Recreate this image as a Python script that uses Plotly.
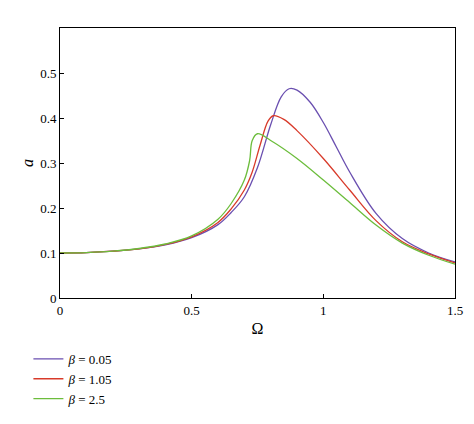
import plotly.graph_objects as go

x_common = [0, 0.1, 0.2, 0.3, 0.4, 0.5, 0.6]
low_p = [0.1, 0.101, 0.104, 0.109, 0.118, 0.134, 0.163]
low_r = [0.1, 0.101, 0.104, 0.109, 0.119, 0.136, 0.168]
low_g = [0.1, 0.101, 0.104, 0.110, 0.120, 0.138, 0.175]

px = x_common + [0.65, 0.7, 0.75, 0.8, 0.84, 0.87, 0.9, 0.95, 1.0, 1.05, 1.1, 1.2, 1.3, 1.4, 1.5]
py = low_p + [0.19, 0.225, 0.29, 0.385, 0.447, 0.465, 0.462, 0.435, 0.39, 0.335, 0.28, 0.188, 0.132, 0.10, 0.08]
rx = x_common + [0.65, 0.7, 0.73, 0.76, 0.79, 0.81, 0.85, 0.9, 1.0, 1.1, 1.2, 1.3, 1.4, 1.5]
ry = low_r + [0.198, 0.24, 0.28, 0.34, 0.393, 0.405, 0.397, 0.372, 0.31, 0.24, 0.172, 0.125, 0.098, 0.078]
gx = x_common + [0.65, 0.7, 0.72, 0.73, 0.75, 0.8, 0.9, 1.0, 1.1, 1.2, 1.3, 1.4, 1.5]
gy = low_g + [0.21, 0.262, 0.305, 0.35, 0.365, 0.35, 0.31, 0.262, 0.212, 0.162, 0.122, 0.095, 0.075]

names = ["<i>β</i> = 0.05", "<i>β</i> = 1.05", "<i>β</i> = 2.5"]
colors = ["#6a4fb0", "#d83a2a", "#6cbd3c"]

fig = go.Figure()
for (x, y), n, c in zip([(px, py), (rx, ry), (gx, gy)], names, colors):
    fig.add_trace(go.Scatter(x=x, y=y, mode="lines", name=n,
                             line=dict(color=c, width=1.3, shape="spline", smoothing=1.0)))

ax = dict(showgrid=False, zeroline=False, showline=True, linecolor="black", linewidth=1,
          mirror=True, ticks="inside", ticklen=4, tickcolor="black")
fig.update_layout(
    width=474, height=424, plot_bgcolor="white", paper_bgcolor="white",
    font=dict(family="Liberation Serif", size=13, color="black"),
    margin=dict(l=52, r=27, t=20, b=134),
    xaxis=dict(range=[0, 1.5], tickvals=[0, 0.5, 1, 1.5], ticktext=["0", "0.5", "1", "1.5"],
               title=dict(text="Ω", standoff=6), **ax),
    yaxis=dict(range=[0, 0.6], tickvals=[0, 0.1, 0.2, 0.3, 0.4, 0.5],
               ticktext=["0", "0.1", "0.2", "0.3", "0.4", "0.5"],
               title=dict(text="<i>a</i>", standoff=2), **ax),
    legend=dict(x=-0.08, y=-0.17, xanchor="left", yanchor="top", bgcolor="rgba(0,0,0,0)",
                font=dict(size=13)),
)
fig.write_html("out.html")
